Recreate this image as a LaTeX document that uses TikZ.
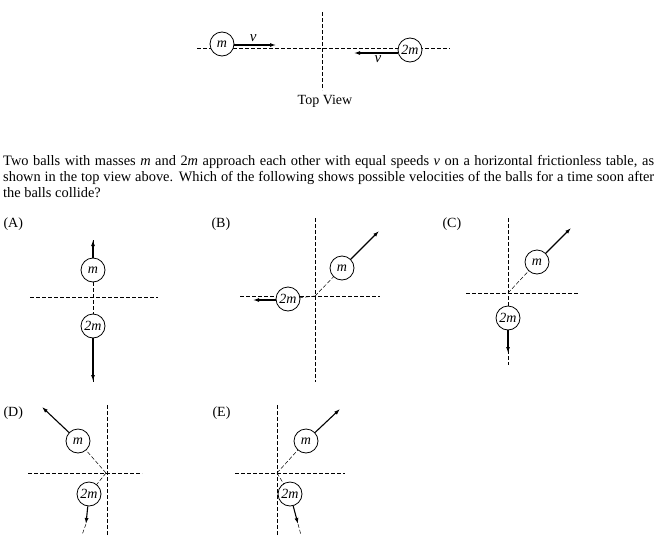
\documentclass[tikz,border=0pt]{standalone}
\usepackage{fontspec}
\setmainfont{Liberation Serif}
\usetikzlibrary{arrows.meta}
\begin{document}
\begin{tikzpicture}[x=1pt,y=-1pt,
  ball/.style={circle,draw,fill=white,line width=0.8pt,minimum size=24pt,inner sep=0pt,font=\itshape\fontsize{14}{15}\selectfont},
  ax/.style={dashed,line width=0.5pt,dash pattern=on 4pt off 2pt},
  vel/.style={line width=1.1pt,-{Latex[length=6pt,width=4pt]}},
  lbl/.style={font=\fontsize{14}{15}\selectfont,anchor=west}]
\useasboundingbox (0,0) rectangle (655,546);
% Top view
\draw[ax] (322,12) -- (322,90);
\draw[ax] (197,48) -- (450,48);
\node[ball] (tm) at (222,44) {m};
\node[ball] (t2) at (410,50) {2m};
\coordinate (tme) at (276,45);
\coordinate (t2e) at (354,53);
\draw[vel] (tm.east|-tme) -- (tme) node[pos=0.45,above=-1pt,font=\itshape\fontsize{15}{16}\selectfont] {v};
\draw[vel] (t2.west|-t2e) -- (t2e) node[pos=0.45,below=-1pt,font=\itshape\fontsize{15}{16}\selectfont] {v};
\node[font=\fontsize{14}{15}\selectfont] (tv) at (325,101) {Top View};
% text
\node[anchor=north west,text width=651pt,align=justify,inner sep=0pt,font=\fontsize{14.4}{16.2}\selectfont] (q) at (3,155)
{Two balls with masses \textit{m} and 2\textit{m} approach each other with equal speeds \textit{v} on a horizontal frictionless table, as shown in the top view above. Which of the following shows possible velocities of the balls for a time soon after the balls collide?};
% A
\node[lbl] (la) at (0,224) {(A)};
\draw[ax] (93,240) -- (93,382);
\draw[ax] (30,297) -- (158,297);
\node[ball] (am) at (93,270) {m};
\node[ball] (a2) at (93,326) {2m};
\coordinate (ame) at (93,240);
\coordinate (a2e) at (93,381);
\draw[vel] (am.north) -- (ame);
\draw[vel] (a2.south) -- (a2e);
% B
\node[lbl] (lb) at (208,224) {(B)};
\draw[ax] (315,218) -- (315,382);
\draw[ax] (240,296) -- (380,296);
\coordinate (bc) at (315,296);
\draw[ax] (bc) -- (342,268);
\draw[ax] (bc) -- (288,299);
\node[ball] (bm) at (342,268) {m};
\node[ball] (b2) at (288,299) {2m};
\coordinate (bme) at (379,231);
\coordinate (b2e) at (253,300);
\draw[vel] (bm) -- (bme);
\draw[vel] (b2.west|-b2e) -- (b2e);
% C
\node[lbl] (lc) at (439,224) {(C)};
\draw[ax] (508,218) -- (508,365);
\draw[ax] (466,293) -- (578,293);
\coordinate (cc) at (508,293);
\draw[ax] (cc) -- (537,262);
\node[ball] (cm) at (537,262) {m};
\node[ball] (c2) at (508,318) {2m};
\coordinate (cme) at (571,228);
\coordinate (c2e) at (508,353);
\draw[vel] (cm) -- (cme);
\draw[vel] (c2.south) -- (c2e);
% D
\node[lbl] (ld) at (0,413) {(D)};
\draw[ax] (107,405) -- (107,535);
\draw[ax] (28,473) -- (142,473);
\coordinate (dc) at (106,473);
\draw[ax] (dc) -- (78,441);
\draw[ax] (dc) -- (89,494);
\node[ball] (dm) at (78,441) {m};
\node[ball] (d2) at (89,494) {2m};
\coordinate (dme) at (42,407);
\coordinate (d2e) at (86,524);
\coordinate (d2f) at (82,535);
\draw[vel] (dm) -- (dme);
\draw[vel] (d2) -- (d2e);
\draw[ax] (d2e) -- (d2f);
% E
\node[lbl] (le) at (209,413) {(E)};
\draw[ax] (277,405) -- (277,535);
\draw[ax] (235,473) -- (345,473);
\coordinate (ec) at (277,473);
\draw[ax] (ec) -- (306,441);
\draw[ax] (ec) -- (290,494);
\node[ball] (em) at (306,441) {m};
\node[ball] (e2) at (290,494) {2m};
\coordinate (eme) at (340,409);
\coordinate (e2e) at (298,524);
\coordinate (e2f) at (301,535);
\draw[vel] (em) -- (eme);
\draw[vel] (e2) -- (e2e);
\draw[ax] (e2e) -- (e2f);
\end{tikzpicture}
\end{document}
